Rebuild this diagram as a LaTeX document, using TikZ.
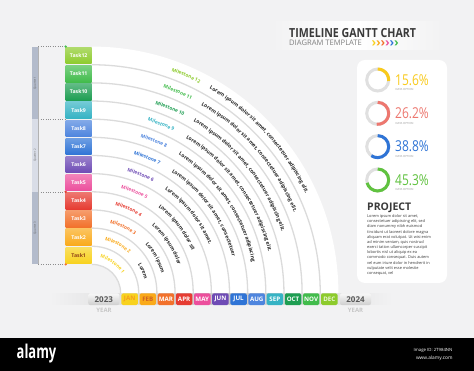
\documentclass[tikz,border=0pt]{standalone}
\usepackage{fontspec}
\usepackage{graphicx}
\setmainfont{Open Sans}
\usetikzlibrary{decorations.text}
\definecolor{bg}{HTML}{F2F2F3}
\definecolor{ink}{HTML}{3A3A3A}
\definecolor{tone1}{HTML}{F8D21E}
\definecolor{tone2}{HTML}{FAAA1A}
\definecolor{tone3}{HTML}{F2712B}
\definecolor{tone4}{HTML}{E63C32}
\definecolor{tone5}{HTML}{EC4E9C}
\definecolor{tone6}{HTML}{6E4BB5}
\definecolor{tone7}{HTML}{2F74D6}
\definecolor{tone8}{HTML}{4E85DE}
\definecolor{tone9}{HTML}{36B3C4}
\definecolor{tone10}{HTML}{1E9E52}
\definecolor{tone11}{HTML}{42BC4C}
\definecolor{tone12}{HTML}{8DCB2C}
\definecolor{barDark}{HTML}{B3BBCB}
\definecolor{barLight}{HTML}{D9DDE7}
\newcommand\mstone{\fontsize{4.8}{5}\selectfont\bfseries}
\newcommand\lstone{\fontsize{5.1}{6}\selectfont\bfseries}
\newcommand\ringtext[5]{\path[decorate,decoration={text along path,text={|#3\color{#4}|#5}}] (C) ++(#2:#1) arc[start angle=#2,end angle=0,radius=#1];}
\begin{document}
\begin{tikzpicture}[x=1pt,y=1pt,every node/.style={font=\fontsize{5}{6}\selectfont},
  taskbox/.style={minimum width=26pt,minimum height=16.5pt,inner sep=0pt,text=white,font=\fontsize{5.2}{6}\selectfont\bfseries},
  monthbox/.style={minimum width=16.5pt,minimum height=11.7pt,inner sep=0pt,rounded corners=1.5pt,font=\fontsize{6.2}{7}\selectfont\bfseries},
  yearbox/.style={minimum width=31pt,minimum height=11.7pt,inner sep=0pt,rounded corners=2pt,top color=gray!6,bottom color=gray!38,text=ink!85,font=\fontsize{8}{9}\selectfont\bfseries},
  yearlbl/.style={text=black!22,font=\fontsize{6}{7}\selectfont\bfseries},
  ringline/.style={black!14,line width=1.3pt},
  donut/.style={circle,draw=black!12,line width=3pt,minimum size=22pt,inner sep=0pt,outer sep=0pt}]
  \useasboundingbox (0,0) rectangle (474,371);
  \fill[bg] (0,33) rectangle (474,371);
  \fill[black] (0,0) rectangle (474,33);
  \def\rzero{28.6}
  \def\rw{18.15}
  \coordinate (C) at (92,78);
  \fill[white] (C) ++(0:246.4) arc[start angle=0,end angle=90,radius=246.4] -- ++(0,-217.8) arc[start angle=90,end angle=0,radius=28.6] -- cycle;
  \foreach \k in {0,...,11}
    \draw[ringline] (C) ++(90:{\rzero+\k*\rw}) arc[start angle=90,end angle=0,radius={\rzero+\k*\rw}];
  \foreach \k/\tc in {1/tone3!60!black,2/white,3/white,4/white,5/white,6/white,7/white,8/white,9/white,10/white,11/white,12/white}
    \node[taskbox,top color=tone\k!70!white,bottom color=tone\k,text=\tc] (task\k) at (78.7,{78+\rzero+(\k-0.5)*\rw}) {Task\k};
  \fill[left color=bg,right color=bg,middle color=black!22] (50,66.3) rectangle (392,77.7);
  \foreach \m/\tc [count=\k] in {JAN/tone3!70!yellow,FEB/tone3!85!black,MAR/white,APR/white,MAY/white,JUN/white,JUL/white,AUG/white,SEP/white,OCT/white,NOV/white,DEC/white!85!tone12}
    \node[monthbox,fill=tone\k,text=\tc] (m\k) at ({92+\rzero+(\k-0.5)*\rw},71.8) {\m};
  \node[yearbox] (y23) at (103.8,71.8) {2023};
  \node[yearbox] (y24) at (355.5,71.8) {2024};
  \node[yearlbl] (y23lbl) at (104,61) {YEAR};
  \node[yearlbl] (y24lbl) at (355.5,61) {YEAR};
  % quarters bracket
  \foreach \j/\c [count=\q] in {3/barDark,2/barLight,1/barDark}{
    \fill[\c] (31.7,{106.6+4*(\j-1)*\rw}) rectangle (38.3,{106.6+4*\j*\rw});
    \node[rotate=90,text=ink!80,font=\fontsize{2.8}{3}\selectfont] (q\q) at (35,{106.6+4*(\j-0.5)*\rw}) {Quarter \q};
  }
  \foreach \j in {0,...,3}{
    \coordinate (bl\j) at (38.3,{106.6+4*\j*\rw});
    \coordinate (br\j) at (65.7,{106.6+4*\j*\rw});
    \draw[dotted,black!45] (bl\j) -- (br\j);
  }
  \draw[black!30,line width=0.4pt] (bl0) -- (bl3);
  \fill[tone3] (br0) circle (1.3);
  \fill[tone4] (br1) circle (1.3);
  \fill[tone11] (br3) circle (1.3);
  % milestones along the rings
  \foreach \k in {1,...,12}{
    \pgfmathsetmacro\rb{\rzero+(\k-0.5)*\rw-1.8}
    \pgfmathsetmacro\as{77.5-0.6*\k}
    \edef\act{\noexpand\ringtext{\rb}{\as}{\noexpand\mstone}{tone\k}{Milestone \k}}\act
  }
  \foreach \k/\lorem in {2/Lorem,3/Lorem ipsum,4/Lorem ipsum dolor,5/Lorem ipsum dolor sit,6/Lorem ipsum dolor sit amet.,
      7/{Lorem ipsum dolor sit amet, consectetuer},8/{Lorem ipsum dolor sit amet, consectetuer adipiscing},
      9/{Lorem ipsum dolor sit amet, consectetuer adipiscing elit.},10/{Lorem ipsum dolor sit amet, consectetuer adipiscing elit.},
      11/{Lorem ipsum dolor sit amet, consectetuer adipiscing elit.},12/{Lorem ipsum dolor sit amet, consectetuer adipiscing elit.}}{
    \pgfmathsetmacro\rb{\rzero+(\k-0.5)*\rw-1.8}
    \pgfmathsetmacro\al{77.5-0.6*\k-42/\rb*180/pi}
    \edef\act{\noexpand\ringtext{\rb}{\al}{\noexpand\lstone}{black!85}{\lorem}}\act
  }
  % title
  \fill[left color=bg,right color=bg,middle color=white] (272,321) rectangle (442,349);
  \node[anchor=base west,inner sep=0pt,text=ink,font=\fontsize{12.5}{13}\selectfont\bfseries] (title) at (289,333) {\scalebox{0.85}[1]{TIMELINE GANTT CHART}};
  \node[anchor=base west,inner sep=0pt,text=black!50,font=\fontsize{7.6}{8}\selectfont] (subtitle) at (289,325) {DIAGRAM TEMPLATE};
  \foreach \c [count=\i] in {tone1,tone2,tone3,tone5,tone7,tone11}
    \fill[\c] ({367.5+\i*4.5},325.5) -- ++(2,2.5) -- ++(-2,2.5) -- ++(1.6,0) -- ++(2,-2.5) -- ++(-2,-2.5) -- cycle;
  % side panel
  \fill[white,rounded corners=8pt] (357,88) rectangle (447,311);
  \foreach \p/\c/\e [count=\i] in {15.6/tone1!90!orange/-5,26.2/tone4!70!white/-95,38.8/tone7/-125,45.3/tone11!60!tone12/-165}{
    \node[donut] (d\i) at (377.7,{291-(\i-1)*33.33}) {};
    \draw[\c,line width=3pt] (d\i.90) arc[start angle=90,end angle=\e,radius=11pt];
    \node[anchor=base west,inner sep=0pt,text=\c,font=\fontsize{15}{15}\selectfont] (p\i) at (395,{285.8-(\i-1)*33.33}) {\scalebox{0.8}[1]{\p\%}};
    \node[anchor=west,inner sep=0pt,text=black!40,font=\fontsize{2.8}{3}\selectfont] (o\i) at (395.5,{281.2-(\i-1)*33.33}) {DATA OPTION};
  }
  \node[anchor=base west,inner sep=0pt,text=ink,font=\fontsize{10.5}{11}\selectfont\bfseries] (project) at (367,160) {PROJECT};
  \node[anchor=north west,inner sep=0pt,align=left,text=ink,font=\fontsize{3.9}{5.15}\selectfont] (para) at (367,156.5)
    {Lorem ipsum dolor sit amet,\\consectetuer adipiscing elit, sed\\diam nonummy nibh euismod\\tincidunt ut laoreet dolore magna\\aliquam erat volutpat. Ut wisi enim\\ad minim veniam, quis nostrud\\exerci tation ullamcorper suscipit\\lobortis nisl ut aliquip ex ea\\commodo consequat. Duis autem\\vel eum iriure dolor in hendrerit in\\vulputate velit esse molestie\\consequat, vel};
  % footer
  \node[text=white,font=\fontsize{19}{19}\selectfont\bfseries] (alamy) at (36.5,17) {\scalebox{0.68}[1]{alamy}};
  \node[anchor=east,text=white!80,font=\fontsize{4.3}{5}\selectfont] (imgid) at (456,21) {Image ID: 2T984NN};
  \node[anchor=east,text=white,font=\fontsize{4.8}{5}\selectfont] (site) at (456,13) {www.alamy.com};
\end{tikzpicture}
\end{document}
